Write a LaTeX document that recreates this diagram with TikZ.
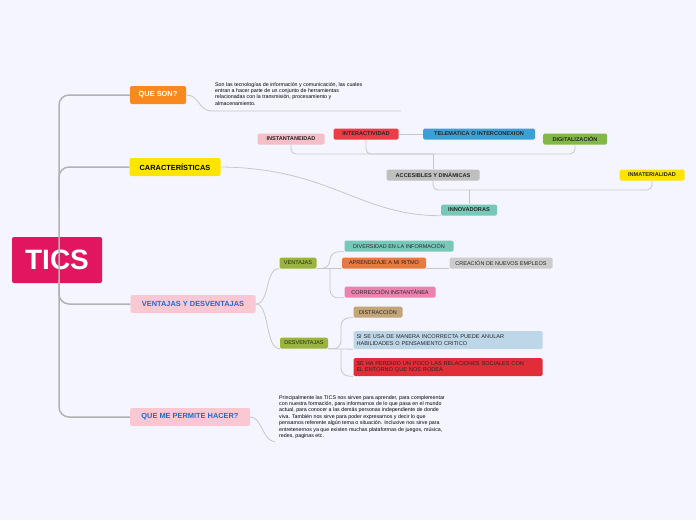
\documentclass[tikz,border=0pt]{standalone}
\usepackage{fontspec}
\setmainfont{Liberation Sans}
\begin{document}
\begin{tikzpicture}[x=1pt,y=-1pt,
 base/.style={rounded corners=1.5pt,inner sep=0pt,font=\bfseries\fontsize{5.6}{6.5}\selectfont,text=black!85},
 tag/.style={base,minimum height=11pt},
 big/.style={rounded corners=2pt,inner sep=0pt,minimum height=18pt,font=\bfseries\fontsize{7.4}{8}\selectfont},
 wide/.style={rounded corners=1.5pt,minimum height=18pt,text width=183pt,inner xsep=3pt,inner ysep=0pt,align=left,font=\fontsize{5.6}{6.6}\selectfont,text=black!85},
 para/.style={inner sep=0pt,align=left,font=\fontsize{5.3}{6.4}\selectfont},
 ln/.style={draw=black!22,line width=0.8pt},
 sp/.style={draw=black!30,line width=1.5pt}]
\fill[blue!4] (0,0) rectangle (696,520);
\useasboundingbox (0,0) rectangle (696,520);
% root
\node[fill={rgb,255:red,226;green,22;blue,96},rounded corners=2pt,minimum width=90pt,minimum height=46pt,text=white,font=\bfseries\fontsize{28}{30}\selectfont] (root) at (57,260) {TICS};
% level 1
\node[big,fill={rgb,255:red,247;green,137;blue,30},text=white,minimum width=56pt] (q) at (158,95) {QUE SON?};
\node[big,fill={rgb,255:red,255;green,228;blue,0},minimum width=91pt] (c) at (175,167) {CARACTERÍSTICAS};
\node[big,fill={rgb,255:red,250;green,200;blue,210},text={rgb,255:red,20;green,110;blue,220},minimum width=125pt] (v) at (193,304) {VENTAJAS Y DESVENTAJAS};
\node[big,fill={rgb,255:red,250;green,200;blue,210},text={rgb,255:red,20;green,110;blue,220},minimum width=120pt] (p) at (190,417) {QUE ME PERMITE HACER?};
% spine
\draw[sp,rounded corners=10pt] (q.west) -- (59,95) -- (59,417) -- (p.west);
\draw[sp,rounded corners=10pt] (c.west) -- (59,167) -- (59,200);
\draw[sp,rounded corners=10pt] (v.west) -- (59,304) -- (59,280);
% que son text
\node[para,anchor=north west] (qt) at (215,82) {Son las tecnologías de información y comunicación, las cuales\\entran a hacer parte de un conjunto de herramientas\\relacionadas con la transmisión, procesamiento y\\almacenamiento.};
\coordinate (qe) at (401,111);
\draw[ln] (q.east) .. controls (200,95) and (198,111) .. (212,111) -- (qe);
% characteristics
\node[tag,fill={rgb,255:red,245;green,190;blue,200},minimum width=67pt] (ins) at (291,139) {INSTANTANEIDAD};
\node[tag,fill={rgb,255:red,238;green,60;blue,70},minimum width=65pt] (int) at (366,134) {INTERACTIVIDAD};
\node[tag,fill={rgb,255:red,60;green,160;blue,215},minimum width=112pt] (tel) at (479,134) {TELEMATICA O INTERCONEXION};
\node[tag,fill={rgb,255:red,130;green,185;blue,70},minimum width=64pt] (dig) at (575,139) {DIGITALIZACIÓN};
\node[tag,fill=black!25,minimum width=93pt] (acc) at (433,175) {ACCESIBLES Y DINÁMICAS};
\node[tag,fill={rgb,255:red,255;green,228;blue,0},minimum width=65pt] (inm) at (652,175) {INMATERIALIDAD};
\node[tag,fill={rgb,255:red,120;green,200;blue,185},minimum width=56pt] (inn) at (469,210) {INNOVADORAS};
\draw[ln,rounded corners=5pt] (ins.south) -- (291,154) -- (575,154) -- (dig.south);
\draw[ln,rounded corners=5pt] (int.south) -- (366,154) -- (433,154);
\draw[ln] (int.east) -- (tel.west);
\draw[ln] (433,154) -- (acc.north);
\draw[ln,rounded corners=5pt] (acc.south) -- (433,190) -- (652,190) -- (inm.south);
\draw[ln] (469,190) -- (inn.north);
\draw[ln] (c.east) .. controls (330,168) and (360,216) .. (inn.south west);
% ventajas
\tikzset{small/.style={tag,font=\fontsize{5.5}{6.5}\selectfont}}
\node[small,fill={rgb,255:red,155;green,180;blue,58},minimum width=37pt] (ve) at (298,263) {VENTAJAS};
\node[small,fill={rgb,255:red,155;green,180;blue,58},minimum width=48pt] (de) at (304,343) {DESVENTAJAS};
\draw[ln] (v.east) .. controls (270,304) and (265,268) .. (ve.south west);
\draw[ln] (v.east) .. controls (270,304) and (265,349) .. (de.south west);
\node[small,fill={rgb,255:red,120;green,200;blue,185},minimum width=109pt] (div) at (399,246) {DIVERSIDAD EN LA INFORMACIÓN};
\node[small,fill={rgb,255:red,235;green,120;blue,60},minimum width=84pt] (apr) at (384,263) {APRENDIZAJE A MI RITMO};
\node[small,fill=black!20,minimum width=103pt] (cre) at (501,263) {CREACIÓN DE NUEVOS EMPLEOS};
\node[small,fill={rgb,255:red,235;green,130;blue,175},minimum width=91pt] (cor) at (390,292) {CORRECCIÓN INSTANTÁNEA};
\draw[ln] (ve.south east) -- (apr.south west);
\draw[ln] (apr.south east) -- (cre.south west);
\draw[ln,rounded corners=8pt] (ve.south east) -- (330,268) -- (330,252) -- (div.south west);
\draw[ln,rounded corners=8pt] (330,268) -- (330,298) -- (cor.south west);
\node[small,fill={rgb,255:red,195;green,165;blue,120},minimum width=49pt] (dis) at (378,312) {DISTRACCIÓN};
\node[wide,fill={rgb,255:red,190;green,215;blue,232}] (si) at (448,340) {SI SE USA DE MANERA INCORRECTA PUEDE ANULAR\\HABILIDADES O PENSAMIENTO CRITICO};
\node[wide,fill={rgb,255:red,225;green,45;blue,55}] (se) at (448,367) {SE HA PERDIDO UN POCO LAS RELACIONES SOCIALES CON\\EL ENTORNO QUE NOS RODEA};
\draw[ln] (de.south east) -- (si.south west);
\draw[ln,rounded corners=8pt] (de.south east) -- (341,349) -- (341,318) -- (dis.south west);
\draw[ln,rounded corners=8pt] (341,349) -- (341,376) -- (se.south west);
% permite
\node[para,anchor=north west] (pt) at (279,395) {Principalmente las TICS nos sirven para aprender, para complementar\\con nuestra formación, para informarnos de lo que pasa en el mundo\\actual, para conocer a las demás personas independiente de donde\\viva. También nos sirve para poder expresarnos y decir lo que\\pensamos referente algún tema o situación. Inclusive nos sirve para\\entretenernos ya que existen muchas plataformas de juegos, música,\\redes, paginas etc.};
\draw[ln] (p.east) .. controls (262,417) and (262,440) .. (275,442);
\end{tikzpicture}
\end{document}
